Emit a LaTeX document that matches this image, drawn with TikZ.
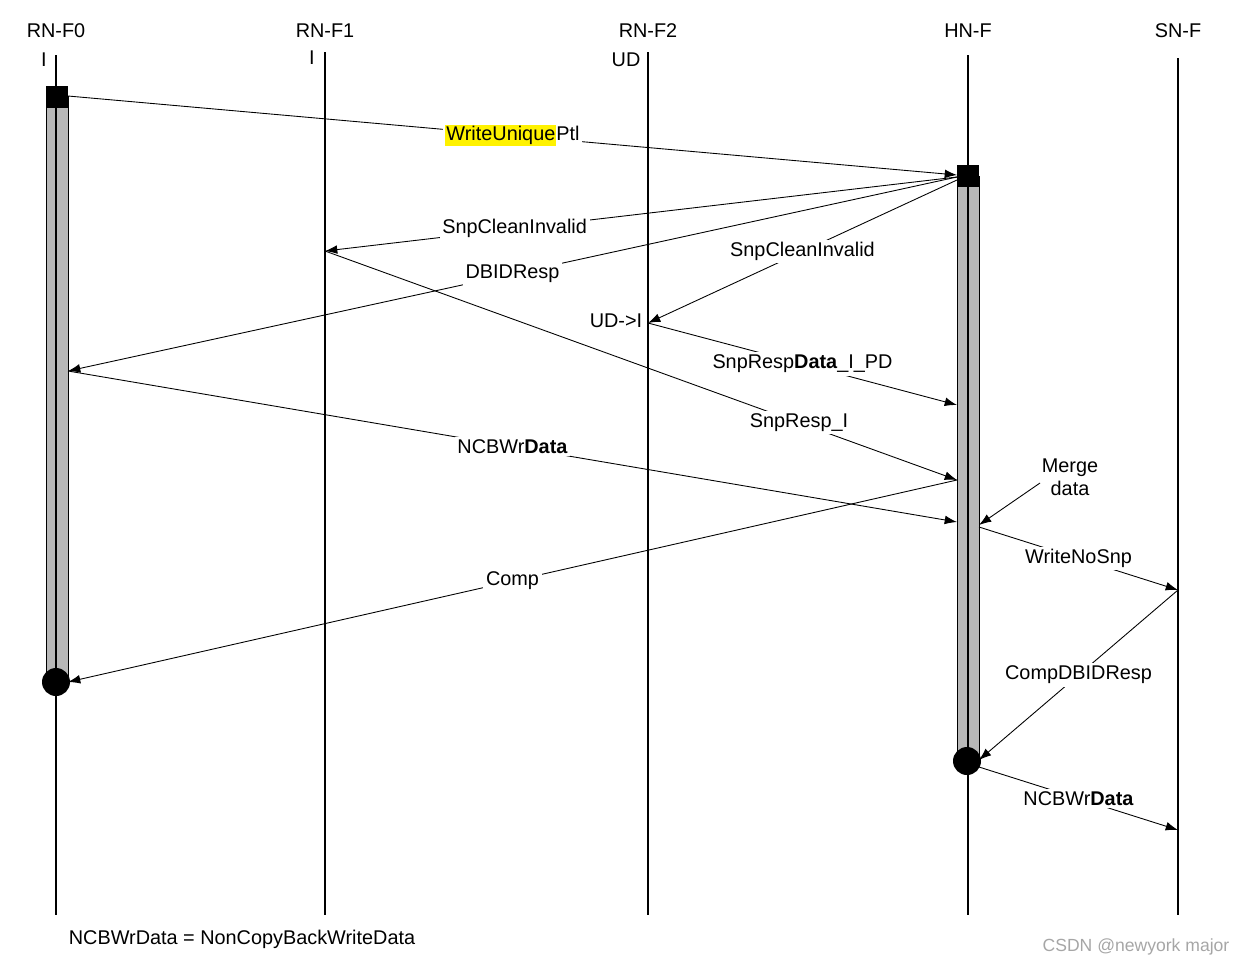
\documentclass[tikz,border=0pt]{standalone}
\usepackage{fontspec}
\setmainfont{Liberation Sans}
\usetikzlibrary{arrows.meta}
\begin{document}
\begin{tikzpicture}[x=0.02cm,y=-0.02cm,
  every node/.style={font=\fontsize{11.3}{13}\selectfont,inner sep=1pt},
  life/.style={line width=1.3pt},
  msg/.style={line width=0.5pt,-{Latex[length=7pt,width=5pt]}},
  lbl/.style={fill=white,inner sep=1.5pt},
  bar/.style={fill=black!28,draw=black,line width=0.5pt}]
\useasboundingbox (0,0) rectangle (1247,967);
\setlength\fboxsep{0.6pt}
% headers
\foreach \n/\x/\t in {a/56/RN-F0,b/325/RN-F1,c/648/RN-F2,d/968/HN-F,e/1178/SN-F}{
  \node (h\n) at (\x,31) {\t};
}
\node at (44,60) {I};
\node at (312,58) {I};
\node at (626,60) {UD};
% activation bars
\draw[bar] (46,96) rectangle (68,682);
\draw[bar] (957,176) rectangle (979,761);
\foreach \n/\x/\t in {a/56/55,b/325/52,c/648/52,d/968/55,e/1178/58}{
  \coordinate (top\n) at (\x,\t); \coordinate (bot\n) at (\x,915);
  \draw[life] (top\n) -- (bot\n);
}
\node[fill=black,minimum size=0.44cm,inner sep=0] (sqa) at (57,97) {};
\node[fill=black,minimum size=0.44cm,inner sep=0] (sqd) at (968,176) {};
\node[fill=black,circle,minimum size=0.56cm,inner sep=0] (ca) at (56,682) {};
\node[fill=black,circle,minimum size=0.56cm,inner sep=0] (cd) at (967,761) {};
% coordinates
\coordinate (p1) at (68,96);
\coordinate (p2) at (957,175);
\coordinate (p3) at (325,251);
\coordinate (p4) at (957,177);
\coordinate (p5) at (68,371);
\coordinate (p6) at (957,180);
\coordinate (p7) at (648,323);
\coordinate (p8) at (957,405);
\coordinate (p9) at (957,480);
\coordinate (p10) at (957,522);
\coordinate (p11) at (68,682);
\coordinate (m1) at (1040,483);
\coordinate (m2) at (979,525);
\coordinate (w1) at (979,527);
\coordinate (w2) at (1178,590);
\coordinate (w3) at (979,760);
\coordinate (w4) at (979,767);
\coordinate (w5) at (1178,830);
% messages
\draw[msg] (p1) -- node[lbl,pos=0.5] {\colorbox{yellow}{WriteUnique}Ptl} (p2);
\draw[msg] (p4) -- node[lbl,pos=0.7] {SnpCleanInvalid} (p3);
\draw[msg] (p4) -- node[lbl,pos=0.5] {DBIDResp} (p5);
\draw[msg] (p6) -- node[lbl,pos=0.5] {SnpCleanInvalid} (p7);
\node at (616,321) {UD->I};
\draw[msg] (p7) -- node[lbl,pos=0.5] {SnpResp\textbf{Data}\_I\_PD} (p8);
\draw[msg] (p3) -- node[lbl,pos=0.75] {SnpResp\_I} (p9);
\draw[msg] (p5) -- node[lbl,pos=0.5] {NCBWr\textbf{Data}} (p10);
\draw[msg] (p9) -- node[lbl,pos=0.5] {Comp} (p11);
\node[align=center] at (1070,477) {Merge\\data};
\draw[msg] (m1) -- (m2);
\draw[msg] (w1) -- node[lbl,pos=0.5] {WriteNoSnp} (w2);
\draw[msg] (w2) -- node[lbl,pos=0.5] {CompDBIDResp} (w3);
\draw[msg] (w4) -- node[lbl,pos=0.5] {NCBWr\textbf{Data}} (w5);
\node at (242,939) {NCBWrData = NonCopyBackWriteData};
\node[text=black!35,font=\fontsize{10}{12}\selectfont] at (1136,947) {CSDN @newyork major};
\end{tikzpicture}
\end{document}
